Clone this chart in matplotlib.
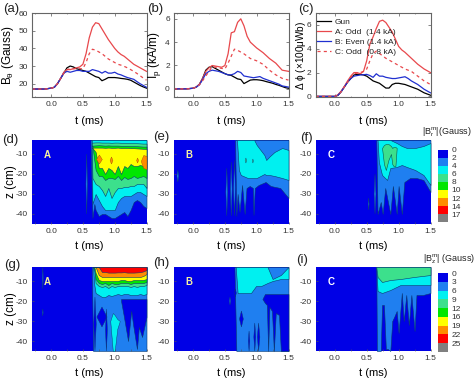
import matplotlib
matplotlib.use('Agg')
import matplotlib.pyplot as plt
from matplotlib.colors import ListedColormap
import numpy as np

plt.rcParams['font.family'] = ['Liberation Sans', 'DejaVu Sans']
plt.rcParams['mathtext.fontset'] = 'custom'
plt.rcParams['mathtext.rm'] = 'Liberation Sans'
plt.rcParams['mathtext.it'] = 'Liberation Sans:italic'
plt.rcParams['mathtext.default'] = 'rm'

W, H = 474, 379

# time traces
tt = [-0.3,-0.1,0,.05,.1,.15,.2,.25,.3,.35,.4,.45,.5,.55,.6,.65,.7,.75,.8,.85,.9,.95,1.0,1.05,1.1,1.15,1.2,1.25,1.3,1.35,1.4,1.45,1.5]
a_gun = [17,17,17.5,18,20,23,26,29,30,29.5,28.5,28,27.5,27,26,25,24,23.5,21.7,22.5,23.5,23.5,23.5,23.3,23,22.8,22.5,22,21,20,19,18.2,17.5]
a_odd14 = [17,17,17.5,18,20,23,26.5,28,28,28.5,29,29.5,31,37,46,52,54.5,54,51,48,45,42.5,40,38,36.5,35.5,34,32.5,31,30,29,28,27]
a_even = [17,17,17.5,18,20,23,26,27,26.5,27,27.5,27.5,27,27,27,28,27.5,27,26,27,26,26,26.5,25.5,25,24.2,23.5,23,22.5,21.2,20,19,18]
a_odd08 = [17,17,17.5,18,20,23,26,28,28.5,28.5,28.5,28.5,28.5,32,37,39.5,39,38,37,35.5,34,33,32,31,30.5,29.8,29,28,27,25.8,24.5,23.2,22]
b_gun = [0,0,.05,.15,.4,.9,1.6,1.85,1.9,1.75,1.6,1.45,1.3,1.2,1.15,1.0,.85,.8,.45,.6,.75,.78,.78,.75,.7,.62,.55,.48,.38,.3,.2,.1,.05]
b_odd14 = [0,0,.05,.15,.4,.9,1.5,1.8,2.0,1.95,1.9,1.85,2.0,3.0,4.8,4.9,5.7,6.0,5.4,4.5,4.0,3.75,3.5,3.3,3.1,2.85,2.6,2.4,2.2,1.9,1.6,1.55,1.5]
b_even = [0,0,.05,.15,.35,.8,1.3,1.5,1.6,1.55,1.5,1.4,1.3,1.2,1.2,1.3,1.5,1.4,1.1,1.05,1.0,.95,1.0,1.05,.9,.8,.7,.6,.5,.4,.25,.2,.15]
b_odd08 = [0,0,.05,.15,.35,.7,1.1,1.5,1.9,1.85,1.8,1.75,1.7,2.2,2.8,3.4,3.3,3.15,3.0,2.8,2.6,2.5,2.4,2.25,2.1,1.85,1.6,1.4,1.2,1.05,.9,.82,.75]
c_gun = [0,0,0,.1,.4,.8,1.2,1.5,1.8,1.85,1.85,1.8,1.7,1.5,1.3,1.2,1.1,.9,.7,.7,1.0,1.1,1.1,1.05,1.0,.9,.8,.7,.6,.45,.3,.2,.1]
c_odd14 = [0,0,0,.15,.45,.85,1.3,1.7,2.0,2.0,1.9,2.1,3.0,4.4,5.0,5.7,6.3,6.4,6.2,5.8,5.4,4.8,4.2,3.9,3.7,3.45,3.2,2.95,2.7,2.5,2.3,2.15,2.0]
c_even = [0,0,0,.1,.4,.8,1.2,1.5,1.7,1.75,1.8,1.82,1.85,1.75,1.6,1.9,1.7,1.7,1.6,1.55,1.5,1.5,1.55,1.6,1.65,1.5,1.3,1.15,1.0,.8,.6,.45,.3]
c_odd08 = [0,0,0,.1,.4,.8,1.2,1.6,1.9,1.95,2.0,2.1,2.3,3.0,3.6,3.8,3.6,3.4,3.2,3.05,2.9,2.75,2.6,2.45,2.3,2.2,2.1,1.9,1.7,1.5,1.3,1.15,1.0]
legend_labels = ['Gun', 'A: Odd  (1.4 kA)', 'B: Even (1.4 kA)', 'C: Odd  (0.8 kA)']

# contour colours, lowest level first
colors = ['#0000e6', '#1f7ff0', '#00f0f0', '#3ce08c', '#00e600', '#ffff00', '#ff8c00', '#ff0000', '#808080']
r_ticks = ['0', '2', '4', '6', '8', '10', '12', '14', '17']
z_ticks = ['0', '3', '6', '9', '12', '16', '19', '22', '25']

tc = [.64,.65,.7,.75,.8,.85,.9,.95,1.0,1.05,1.1,1.15,1.2,1.25,1.3,1.35,1.4,1.45,1.5]

# (d) contour depths
d_t2 = [.62,.65,.68,.7,.75,.8,.85,.9,.95,1,1.05,1.1,1.15,1.2,1.25,1.3,1.35,1.4,1.45,1.5]
d_z2 = [-3,-42,-35,-38,-41,-40,-40,-41,-42,-42,-41,-40,-39,-41,-38,-34,-33,-34,-36,-37]
d_z4 = [-3,-35,-30,-33,-36,-38,-38,-38,-38,-34,-32,-31,-31,-31,-30,-29,-29,-30,-31]
d_z6 = [-4.3,-22,-25,-26,-28,-31,-27,-32,-29,-27,-27,-26.5,-26.5,-26,-26,-25,-25,-25,-27]
d_z8 = [-5.8,-6,-18,-21,-21,-23,-22,-22,-22.5,-21,-23,-21.5,-22.5,-22,-21,-22,-21.5,-21,-22]
d_z10 = [-6.8,-7,-9,-17,-17,-20,-17,-18,-20,-16,-20,-16,-17,-15,-16,-16,-15.5,-16,-17]
d_top6 = [-4.3,-4.3,-4.2,-4.2,-4.3,-4.3,-4.3,-4.4,-4.3,-4.3,-4.4,-4.4,-4.4,-4.5,-4.5,-4.6,-4.7,-4.8,-4.8]
d_top8 = [-5.8,-5.8,-5.7,-5.6,-5.7,-5.8,-5.7,-5.8,-5.8,-5.8,-5.9,-5.9,-5.9,-6,-6,-6.1,-6.2,-6.3,-6.3]
d_top10 = [-6.8,-6.8,-6.8,-6.8,-6.8,-6.9,-6.8,-6.9,-6.9,-6.8,-7,-7,-7,-7.1,-7.1,-7.2,-7.3,-7.4,-7.5]
d_isl_t = [.76,.95,1.36]
d_isl_top = [-10.5,-11.5,-12]
d_isl_bot = [-15,-15,-14.5]
d_isl_w = [.045,.022,.015]
d_edge_t = [1.41,1.45,1.5]
d_edge_lo = [-13.5,-17,-17.5]
d_edge_hi = [-13.5,-10.5,-11]

# (e)
e_t2 = [.66,.68,.7,.73,.77,.81,.84,.89,.94,.95,.97,1.03,1.14,1.22,1.37,1.5]
e_z2 = [-3,-41,-30,-39,-25.5,-40,-27,-26,-27,-40.5,-27,-25.5,-24,-26,-27,-32]
e_t4 = [.69,.72,.75,.86,.96,1.0,1.12,1.15,1.2,1.28,1.4,1.5]
e_z4 = [-3,-18,-20.5,-22,-22,-22,-20,-20.5,-20.5,-21,-22,-23]
e_top4 = [-3,-3,-3,-3,-3,-5.5,-10.5,-13,-11.3,-9,-7,-8]

# (f)
f_t2 = [.65,.67,.72,.75,.79,.87,.91,.97,1.0,1.05,1.09,1.18,1.28,1.39,1.5]
f_z2 = [-3,-40,-34,-40,-27,-40,-26,-40,-26,-40,-24,-22,-22,-23,-29]
f_t4 = [.67,.69,.74,.82,.87,.97,1.05,1.13,1.26,1.39,1.5]
f_z4 = [-3,-14,-20.5,-23,-17,-16.5,-15.5,-16.5,-18,-20.5,-25.5]
f_top4 = [-3,-3,-3,-3,-3,-4.5,-6,-7,-7,-6,-4.5]
f_isl_t = [.74,.77,.8,.84,.88,.9,.92,.95,.97]
f_isl_lo = [-7,-15,-18,-13,-10,-15,-16,-16,-7]
f_isl_hi = [-7,-5.5,-5,-5,-6,-7,-6.5,-6.5,-7]

# (g)
g_t2 = [.64,.66,1.5]
g_z2 = [-3,-45,-45]
g_t = [.66,.68,.7,.75,.8,.85,.9,.95,1.0,1.05,1.1,1.15,1.2,1.25,1.3,1.35,1.4,1.45,1.5]
g_z4 = [-3,-12,-16,-17,-18,-18,-17,-17.5,-17,-16.5,-17,-16.5,-16.5,-17,-17,-17,-16.5,-17,-16.5]
g_z6 = [-3,-5,-11,-12.5,-13,-12.5,-13.5,-12.5,-13,-12.5,-12.5,-12.5,-12.5,-13,-12.5,-13,-12.5,-12.5,-12]
g_z9 = [-3,-4,-9,-11,-11.5,-11,-12,-11,-11.5,-11.5,-11,-11,-11,-11.5,-11,-11,-11,-11,-10.5]
g_z12 = [-3,-3,-6,-9.5,-10,-10,-10,-10,-10,-10,-9.5,-9.5,-10,-10,-9.5,-9.5,-9.5,-9.5,-9]
g_z16 = [-3,-3,-3,-7,-8,-8,-8,-8,-8,-8,-8,-8,-8,-8,-8,-8,-8,-7.5,-6.5]
g_z19 = [-3,-3,-3,-3,-5.5,-5.5,-5.8,-5.8,-5.8,-5.7,-5.7,-5.6,-5.8,-5.8,-5.8,-5.7,-5.6,-5.2,-4.5]
g_hole_t = [.69,.8,.87]
g_hole_top = [-18,-23,-24]
g_hole_bot = [-45,-33,-45]
g_hole_w = [.02,.08,.015]
g_hole3_t = [1.1,1.14,1.21,1.26,1.29,1.35,1.38,1.43,1.5]
g_hole3_lo = [-20,-27,-40,-25,-32,-44,-33,-38,-28]
g_hole3_hi = [-19,-19,-19,-19,-19,-19,-19,-19,-19]
g_cy_t = [.93,.97,1.0,1.04,1.08]
g_cy_lo = [-30,-45,-45,-34,-30]
g_cy_hi = [-30,-26,-27,-29,-30]

# (h)
h_t2 = [.65,.68,1.5]
h_z2 = [-3,-45,-45]
h_t4 = [.67,.7,.76,.86,.91,.99,1.07,1.17,1.25,1.38,1.5]
h_z4 = [-3,-16,-16,-16,-16,-12.5,-12.5,-11,-10,-9,-9]
h_top4 = [-3,-3,-3,-3,-3,-3,-3,-3,-9,-7,-3]
h_sp_t = [.665,.76,.88,.97,1.03]
h_sp_top = [-14,-25,-35,-31,-31]
h_sp_bot = [-18,-33,-45,-45,-45]
h_sp_w = [.015,.03,.012,.015,.02]
h_big_t = [1.09,1.13,1.16,1.18,1.2,1.24,1.27,1.3,1.35,1.38,1.5]
h_big_lo = [-19,-21,-22,-45,-23,-25,-45,-26,-27,-45,-45]
h_big_hi = [-19,-16.5,-16.5,-16.5,-16.5,-16.5,-16.5,-16.5,-16.5,-16.5,-16.5]

# (i)
i_t2 = [.65,.66,.72,.74,.77,.8,.83,.87,.9,.93,.97,1.0,1.05,1.08,1.12,1.16,1.2,1.25,1.28,1.32,1.38,1.5]
i_z2 = [-3,-45,-45,-22,-22,-44,-44,-45,-30,-28,-25,-36,-16,-30,-17,-32,-17,-35,-17,-17,-17,-16]
i_t = [.65,.67,.74,.87,1.03,1.24,1.5]
i_z4 = [-3,-15,-16,-14.5,-12,-12,-12]
i_z6 = [-3,-8,-10.5,-9.5,-9,-8,-7]

letters = ['(a)', '(b)', '(c)', '(d)', '(e)', '(f)', '(g)', '(h)', '(i)']
ylabels = ['B$_{\\theta}$ (Gauss)', 'I$_{p}$ (kA/m)', '$\\Delta$ $\\phi$ ($\\times$100$\\mu$Wb)']


def make_ax(x0, y0, x1, y1):
    return fig.add_axes([x0 / W, 1 - y1 / H, (x1 - x0) / W, (y1 - y0) / H])


def style(ax):
    ax.set_xlim(-0.3, 1.5)
    ax.set_xticks([0, .5, 1.0, 1.5])
    ax.set_xticklabels(['0.0', '0.5', '1.0', '1.5'])
    ax.set_xticks([-.25, .25, .75, 1.25], minor=True)
    ax.tick_params(which='major', direction='in', length=2, width=.5, labelsize=6,
                   top=True, right=True, pad=3, labelcolor='#333333', color='#555555')
    ax.tick_params(which='minor', direction='in', length=1, width=.4, top=True, color='#555555')
    for s in ax.spines.values():
        s.set_linewidth(.8)
        s.set_color('#666666')


def band(ax, t, lo, level, hi=-3):
    ax.fill_between(t, lo, hi, color=colors[level], ec='#0a3a70', lw=.4)


def lens(ax, t, top, bot, w, level):
    mid = (top + bot) / 2
    ax.fill([t - w, t, t + w, t], [mid, top, mid, bot], fc=colors[level], ec='#0a3a70', lw=.3)


fig = plt.figure(figsize=(W / 100, H / 100), dpi=100)

# top row
boxes = [(32, 13, 146.5, 97), (174, 13, 288.5, 97), (315.7, 13, 430.5, 97)]
series = [(a_gun, a_odd14, a_even, a_odd08), (b_gun, b_odd14, b_even, b_odd08), (c_gun, c_odd14, c_even, c_odd08)]
ylims = [(12.5, 60), (-0.7, 6.5), (-0.05, 7)]
yticks = [[20, 30, 40, 50, 60], [0, 2, 4, 6], [0, 2, 4, 6]]
label_x = [16, 163, 308]
label_size = [8.5, 8.5, 7.2]
top_axes = []
for box, (gun, odd14, even, odd08), yl, yt, lab, lx, ls_ in zip(boxes, series, ylims, yticks, ylabels, label_x, label_size):
    ax = make_ax(*box)
    ax.plot(tt, gun, color='black', lw=.9, label=legend_labels[0])
    ax.plot(tt, odd14, color='#e8484c', lw=.9, label=legend_labels[1])
    ax.plot(tt, even, color='#2030d0', lw=.9, label=legend_labels[2])
    ax.plot(tt, odd08, color='#e8484c', lw=.9, ls=(0, (2.5, 2.5)), label=legend_labels[3])
    style(ax)
    ax.set_ylim(*yl)
    ax.set_yticks(yt)
    ax.set_xlabel('t (ms)', fontsize=8, labelpad=5.5)
    ax.set_ylabel(lab, fontsize=ls_)
    ax.yaxis.set_label_coords((lx - box[0]) / (box[2] - box[0]), .5)
    top_axes.append(ax)
top_axes[2].legend(loc='upper left', bbox_to_anchor=(0.015, 0.94), frameon=False, fontsize=6, labelspacing=.28,
                   handlelength=1.6, handletextpad=.5, borderaxespad=0, borderpad=0, labelcolor='#222222')

# contour rows
row2 = [make_ax(32, 140, 146.5, 224), make_ax(174, 140, 288.5, 224), make_ax(315.7, 140, 430.5, 224)]
row3 = [make_ax(32, 267, 146.5, 351), make_ax(174, 267, 288.5, 351), make_ax(315.7, 267, 430.5, 351)]
names = ['A', 'B', 'C']
for i, ax in enumerate(row2 + row3):
    ax.set_facecolor(colors[0])
    style(ax)
    ax.set_ylim(-45, -3)
    ax.set_yticks([-10, -20, -30, -40])
    ax.set_yticklabels(['-10', '-20', '-30', '-40'])
    ax.tick_params(which='both', top=False, right=False, length=1.5)
    ax.spines[:].set_visible(False)
    ax.set_xlabel('t (ms)', fontsize=8, labelpad=4.5)
    ax.text(-.06, -10.7, names[i % 3], color='#f5f0a0' if i % 3 < 2 else 'white', fontsize=7,
            fontweight='bold', ha='center', va='center')
row2[0].set_ylabel('z (cm)', fontsize=8.5)
row3[0].set_ylabel('z (cm)', fontsize=8.5)
row2[0].yaxis.set_label_coords(-.135, .5)
row3[0].yaxis.set_label_coords(-.135, .5)

ax = row2[0]
lens(ax, .56, -10, -40, .012, 1)
band(ax, d_t2, d_z2, 1)
band(ax, tc, d_z4, 2)
band(ax, tc, d_z6, 3, d_top6)
band(ax, tc, d_z8, 4, d_top8)
band(ax, tc, d_z10, 5, d_top10)
for t, top, bot, w in zip(d_isl_t, d_isl_top, d_isl_bot, d_isl_w):
    ax.fill([t - w, t, t + w, t], [(top + bot) / 2, top, (top + bot) / 2, bot], fc=colors[6], ec='#a05000', lw=.3)
ax.fill_between(d_edge_t, d_edge_lo, d_edge_hi, color=colors[6], ec='#a05000', lw=.3)

ax = row2[1]
for t, top, bot in [(.53, -17, -41), (.6, -14, -41), (.65, -13, -41), (-.24, -18, -24)]:
    lens(ax, t, top, bot, .015, 1)
band(ax, e_t2, e_z2, 1)
band(ax, e_t4, e_z4, 2, e_top4)
lens(ax, .83, -12, -14.5, .012, 3)
lens(ax, .94, -12.5, -14.5, .008, 3)

ax = row2[2]
lens(ax, .53, -32, -38, .008, 1)
lens(ax, .63, -20, -40, .015, 1)
band(ax, f_t2, f_z2, 1)
band(ax, f_t4, f_z4, 2, f_top4)
ax.fill_between(f_isl_t, f_isl_lo, f_isl_hi, color=colors[3], ec='#0a5a50', lw=.4)

ax = row3[0]
lens(ax, -.13, -3, -14, .008, 1)
lens(ax, -.13, -24, -27.5, .006, 1)
band(ax, g_t2, g_z2, 1)
for t, top, bot, w in zip(g_hole_t, g_hole_top, g_hole_bot, g_hole_w):
    lens(ax, t, top, bot, w, 0)
ax.fill_between(g_hole3_t, g_hole3_lo, g_hole3_hi, color=colors[0], ec='#0a3a70', lw=.4)
ax.fill_between(g_cy_t, g_cy_lo, g_cy_hi, color=colors[2], ec='#0a3a70', lw=.3)
band(ax, g_t, g_z4, 2)
band(ax, g_t, g_z6, 3)
band(ax, g_t, g_z9, 4)
band(ax, g_t, g_z12, 5)
band(ax, g_t, g_z16, 6)
band(ax, g_t, g_z19, 7)

ax = row3[1]
lens(ax, .58, -18, -22, .012, 1)
band(ax, h_t2, h_z2, 1)
band(ax, h_t4, h_z4, 2, h_top4)
for t, top, bot, w in zip(h_sp_t, h_sp_top, h_sp_bot, h_sp_w):
    lens(ax, t, top, bot, w, 0)
ax.fill_between(h_big_t, h_big_lo, h_big_hi, color=colors[0], ec='#0a3a70', lw=.4)

ax = row3[2]
band(ax, i_t2, i_z2, 1)
band(ax, i_t, i_z4, 2)
band(ax, i_t, i_z6, 3)

# colour bars
cmap = ListedColormap(colors)
for box, labels in [((438, 150, 448, 222), r_ticks), ((438, 273, 448, 352), z_ticks)]:
    cb = make_ax(*box)
    cb.pcolormesh([0, 1], np.arange(10), np.arange(9).reshape(-1, 1), cmap=cmap, vmin=0, vmax=8)
    cb.set_ylim(9, 0)
    cb.set_xticks([])
    cb.yaxis.tick_right()
    cb.set_yticks(np.arange(9))
    cb.set_yticklabels(labels)
    cb.tick_params(length=0, labelsize=6, pad=2.5, labelcolor='#333333')
    cb.spines[:].set_visible(False)
fig.text(422 / W, 1 - 132 / H, '|B$_{r}^{m}$|(Gauss)', fontsize=6.5, va='center', color='#222222')
fig.text(423 / W, 1 - 259 / H, '|B$_{z}^{m}$| (Gauss)', fontsize=6.5, va='center', color='#222222')

# panel letters
letter_pos = [(3, 9), (147, 9), (298, 9), (2, 140), (153, 137), (300, 138), (4, 265), (153, 263), (296, 260)]
for s, (px, py) in zip(letters, letter_pos):
    fig.text(px / W, 1 - py / H, s, fontsize=9.5, va='center', color='#222222')

fig.savefig('out.png', dpi=100)
